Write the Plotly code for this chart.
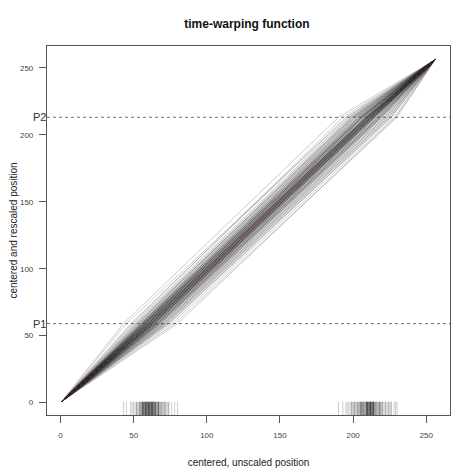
import plotly.graph_objects as go

# ---- data ----
start_pos = 1
end_pos = 256
landmark_names = ["P1", "P2"]
landmark_levels = [59, 213]
# per-curve unscaled landmark positions (x where each curve reaches P1 / P2)
p1_x = [45, 62, 57, 70, 52, 66, 60, 55, 73, 58, 63, 50, 68, 61, 56, 65, 59, 71, 54, 64,
        62, 57, 67, 60, 53, 74, 58, 63, 49, 66, 61, 56, 69, 59, 64, 55, 72, 60, 62, 57,
        65, 51, 68, 61, 58, 76, 63, 56, 60, 67, 54, 64, 59, 70, 62, 57, 66, 48, 61, 63,
        58, 69, 55, 65, 60, 72, 62, 53, 67, 59, 64, 57, 78, 61, 56, 66, 60, 63, 52, 68,
        59, 62, 71, 55, 64, 58, 80, 61, 57, 65, 43, 60, 63, 67, 56, 62, 59, 74, 64, 58]
p2_x = [196, 212, 205, 222, 200, 216, 210, 203, 225, 208, 213, 197, 219, 211, 204, 215, 209, 223, 201, 214,
        212, 206, 218, 210, 199, 226, 207, 213, 193, 217, 211, 205, 220, 209, 214, 202, 224, 210, 212, 206,
        215, 198, 219, 211, 208, 228, 213, 204, 210, 218, 201, 214, 209, 221, 212, 206, 217, 195, 211, 213,
        207, 220, 203, 215, 210, 224, 212, 200, 218, 209, 214, 206, 230, 211, 205, 216, 210, 213, 199, 219,
        209, 212, 222, 202, 214, 208, 229, 211, 206, 215, 190, 210, 213, 217, 204, 212, 209, 226, 214, 207]

x_range = [-9.2, 266.2]
y_range = [-9.2, 266.2]

fig = go.Figure()

# individual warping functions
for a, b in zip(p1_x, p2_x):
    fig.add_trace(go.Scatter(
        x=[start_pos, a, b, end_pos],
        y=[start_pos, landmark_levels[0], landmark_levels[1], end_pos],
        mode="lines", line=dict(color="rgba(30,30,30,0.33)", width=0.7),
        hoverinfo="skip", showlegend=False))

# mean warping (red)
m1 = sum(p1_x) / len(p1_x)
m2 = sum(p2_x) / len(p2_x)
fig.add_trace(go.Scatter(
    x=[start_pos, m1, m2, end_pos],
    y=[start_pos, landmark_levels[0], landmark_levels[1], end_pos],
    mode="lines", line=dict(color="rgba(220,50,60,0.8)", width=0.8, dash="dot"),
    hoverinfo="skip", showlegend=False))

# rug of landmark positions
rug_y = y_range[0] + 0.015 * (y_range[1] - y_range[0])
fig.add_trace(go.Scatter(
    x=p1_x + p2_x, y=[rug_y] * (len(p1_x) + len(p2_x)),
    mode="markers",
    marker=dict(symbol="line-ns-open", size=11, color="rgba(0,0,0,0.2)",
                line=dict(color="rgba(0,0,0,0.2)", width=1)),
    hoverinfo="skip", showlegend=False))

# landmark reference lines
for name, lvl in zip(landmark_names, landmark_levels):
    fig.add_trace(go.Scatter(
        x=x_range, y=[lvl, lvl], mode="lines",
        line=dict(color="#444444", width=0.8, dash="dot"),
        hoverinfo="skip", showlegend=False))
    fig.add_annotation(x=0, xref="paper", y=lvl, yref="y", text=name,
                       showarrow=False, xanchor="right", yanchor="middle",
                       font=dict(size=11, color="#333333"), xshift=1)

axis_common = dict(showgrid=False, zeroline=False, showline=True, mirror=True,
                   linecolor="#555555", linewidth=1.2, ticks="outside", ticklen=7,
                   tickcolor="#555555", tickfont=dict(size=8, color="#444444"),
                   automargin=False)

# page body adds an 8px offset; margins compensate for it
fig.update_layout(
    width=474, height=474, autosize=False,
    margin=dict(l=39, r=32, t=38, b=67),
    paper_bgcolor="white", plot_bgcolor="white",
    font=dict(family="Liberation Sans, Arial, sans-serif"),
    title=dict(text="<b>time-warping function</b>", x=0.504, xanchor="center",
               y=0.966, yanchor="middle", font=dict(size=12, color="#111111")),
    xaxis=dict(range=x_range, tickvals=[0, 50, 100, 150, 200, 250], ticklabelstandoff=5,
               title=dict(text="centered, unscaled position", font=dict(size=10, color="#222222"), standoff=20),
               **axis_common),
    yaxis=dict(range=y_range, tickvals=[0, 50, 100, 150, 200, 250], ticklabelstandoff=4,
               title=dict(text="centered and rescaled position", font=dict(size=10, color="#222222"), standoff=12),
               **axis_common),
)

fig.write_html("out.html")
